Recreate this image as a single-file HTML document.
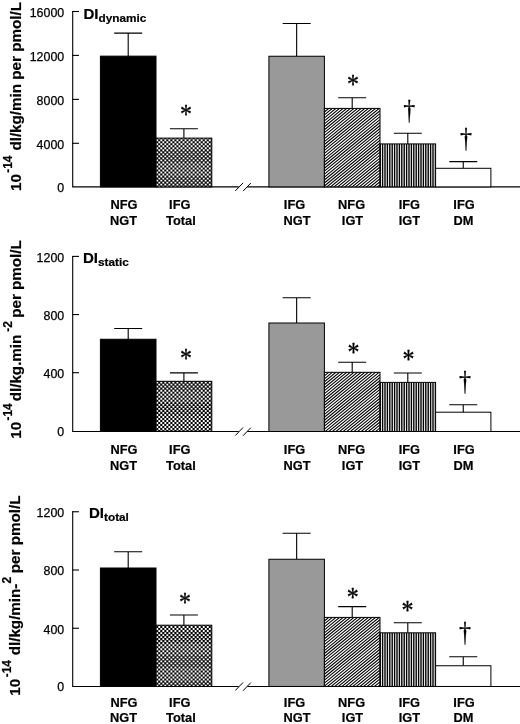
<!DOCTYPE html><html><head><meta charset="utf-8"><title>Disposition index</title>
<style>html,body{margin:0;padding:0;background:#fff}svg{display:block}text{font-family:"Liberation Sans",Arial,Helvetica,sans-serif;fill:#000}.b{font-weight:bold;stroke:#000;stroke-width:.2px}</style></head><body>
<svg width="520" height="724" viewBox="0 0 520 724">
<defs>
<pattern id="chk" x="156.3" y="139.2" width="4.04" height="4.04" patternUnits="userSpaceOnUse"><rect width="4.04" height="4.04" fill="#000"/><rect x="0" y="0" width="2.02" height="2.02" fill="#fff"/><rect x="2.02" y="2.02" width="2.02" height="2.02" fill="#fff"/></pattern>
<pattern id="dg" width="2.29" height="2.29" patternUnits="userSpaceOnUse" patternTransform="rotate(50)"><rect width="2.29" height="2.29" fill="#fff"/><rect width="1.2" height="2.29" fill="#000"/></pattern>
<pattern id="vs" x="380.3" width="2.4" height="4" patternUnits="userSpaceOnUse"><rect width="2.4" height="4" fill="#fff"/><rect width="1.55" height="4" fill="#000"/></pattern>
</defs>
<rect width="520" height="724" fill="#fff"/>
<g id="chart1">
<path d="M72.7 11.0V186.9" stroke="#000" stroke-width="1.1" fill="none"/>
<path d="M72.2 186.9H238.7M247.3 186.9H520" stroke="#000" stroke-width="1.1" fill="none"/>
<path d="M235.3 190.9L243.1 182.9M243.1 191.1L250.8 183.1" stroke="#000" stroke-width="1" fill="none"/>
<path d="M72.2 11.5H79" stroke="#000" stroke-width="1.1"/>
<text x="64.2" y="16.9" font-size="12.4" text-anchor="end" stroke="#000" stroke-width="0.25">16000</text>
<path d="M72.2 55.4H79" stroke="#000" stroke-width="1.1"/>
<text x="64.2" y="60.8" font-size="12.4" text-anchor="end" stroke="#000" stroke-width="0.25">12000</text>
<path d="M72.2 99.4H79" stroke="#000" stroke-width="1.1"/>
<text x="64.2" y="104.80000000000001" font-size="12.4" text-anchor="end" stroke="#000" stroke-width="0.25">8000</text>
<path d="M72.2 143.3H79" stroke="#000" stroke-width="1.1"/>
<text x="64.2" y="148.70000000000002" font-size="12.4" text-anchor="end" stroke="#000" stroke-width="0.25">4000</text>
<text x="64.2" y="191.8" font-size="12.4" text-anchor="end" stroke="#000" stroke-width="0.25">0</text>
<path d="M128.20 56.15V33.1M114.20 33.1H142.20" stroke="#000" stroke-width="1.1" fill="none"/>
<rect x="100.4" y="56.15" width="55.599999999999994" height="130.75" fill="#000" stroke="#000" stroke-width="1"/>
<path d="M183.90 138.1V128.75M169.90 128.75H197.90" stroke="#000" stroke-width="1.1" fill="none"/>
<clipPath id="c0_1"><rect x="156" y="138.1" width="55.80000000000001" height="48.80"/></clipPath><rect x="156" y="138.1" width="55.80000000000001" height="48.80" fill="#000"/><path clip-path="url(#c0_1)" d="M154.28 138.19H211.8M152.26 140.21H211.8M154.28 142.23H211.8M152.26 144.25H211.8M154.28 146.27H211.8M152.26 148.29H211.8M154.28 150.31H211.8M152.26 152.33H211.8M154.28 154.35H211.8M152.26 156.37H211.8M154.28 158.39H211.8M152.26 160.41H211.8M154.28 162.43H211.8M152.26 164.45H211.8M154.28 166.47H211.8M152.26 168.49H211.8M154.28 170.51H211.8M152.26 172.53H211.8M154.28 174.55H211.8M152.26 176.57H211.8M154.28 178.59H211.8M152.26 180.61H211.8M154.28 182.63H211.8M152.26 184.65H211.8M154.28 186.67H211.8" stroke="#fff" stroke-width="1.9" stroke-dasharray="1.9 2.14" fill="none"/><rect x="156" y="138.1" width="55.80000000000001" height="48.80" fill="none" stroke="#000" stroke-width="1"/>
<text transform="translate(185.9 109.25) scale(.92 1.08)" x="0" y="12.4" font-size="26" stroke="#000" stroke-width=".35" text-anchor="middle" style="font-family:'Liberation Serif',serif">*</text>
<path d="M296.65 56.25V23.5M282.65 23.5H310.65" stroke="#000" stroke-width="1.1" fill="none"/>
<rect x="268.9" y="56.25" width="55.5" height="130.65" fill="#999" stroke="#000" stroke-width="1"/>
<path d="M352.20 108.4V97.8M338.20 97.8H366.20" stroke="#000" stroke-width="1.1" fill="none"/>
<clipPath id="c0_3"><rect x="324.4" y="108.4" width="55.60000000000002" height="78.50"/></clipPath><rect x="324.4" y="108.4" width="55.60000000000002" height="78.50" fill="#fff"/><path clip-path="url(#c0_3)" d="M324.4 109.00L380 63.33M324.4 111.96L380 66.29M324.4 114.92L380 69.25M324.4 117.88L380 72.21M324.4 120.84L380 75.17M324.4 123.80L380 78.13M324.4 126.76L380 81.09M324.4 129.72L380 84.05M324.4 132.68L380 87.01M324.4 135.64L380 89.97M324.4 138.60L380 92.93M324.4 141.56L380 95.89M324.4 144.52L380 98.85M324.4 147.48L380 101.81M324.4 150.44L380 104.77M324.4 153.40L380 107.73M324.4 156.36L380 110.69M324.4 159.32L380 113.65M324.4 162.28L380 116.61M324.4 165.24L380 119.57M324.4 168.20L380 122.53M324.4 171.16L380 125.49M324.4 174.12L380 128.45M324.4 177.08L380 131.41M324.4 180.04L380 134.37M324.4 183.00L380 137.33M324.4 185.96L380 140.29M324.4 188.92L380 143.25M324.4 191.88L380 146.21M324.4 194.84L380 149.17M324.4 197.80L380 152.13M324.4 200.76L380 155.09M324.4 203.72L380 158.05M324.4 206.68L380 161.01M324.4 209.64L380 163.97M324.4 212.60L380 166.93M324.4 215.56L380 169.89M324.4 218.52L380 172.85M324.4 221.48L380 175.81M324.4 224.44L380 178.77M324.4 227.40L380 181.73M324.4 230.36L380 184.69M324.4 233.32L380 187.65" stroke="#000" stroke-width="1.1" fill="none"/><rect x="324.4" y="108.4" width="55.60000000000002" height="78.50" fill="none" stroke="#000" stroke-width="1"/>
<text transform="translate(353.1 79.45) scale(.92 1.08)" x="0" y="12.4" font-size="26" stroke="#000" stroke-width=".35" text-anchor="middle" style="font-family:'Liberation Serif',serif">*</text>
<path d="M407.80 143.9V133.25M393.80 133.25H421.80" stroke="#000" stroke-width="1.1" fill="none"/>
<clipPath id="c0_4"><rect x="380" y="143.9" width="55.60000000000002" height="43.00"/></clipPath><rect x="380" y="143.9" width="55.60000000000002" height="43.00" fill="#fff"/><path clip-path="url(#c0_4)" d="M380.20 143.9V186.9M382.60 143.9V186.9M385.00 143.9V186.9M387.40 143.9V186.9M389.80 143.9V186.9M392.20 143.9V186.9M394.60 143.9V186.9M397.00 143.9V186.9M399.40 143.9V186.9M401.80 143.9V186.9M404.20 143.9V186.9M406.60 143.9V186.9M409.00 143.9V186.9M411.40 143.9V186.9M413.80 143.9V186.9M416.20 143.9V186.9M418.60 143.9V186.9M421.00 143.9V186.9M423.40 143.9V186.9M425.80 143.9V186.9M428.20 143.9V186.9M430.60 143.9V186.9M433.00 143.9V186.9M435.40 143.9V186.9" stroke="#000" stroke-width="1.4" fill="none"/><rect x="380" y="143.9" width="55.60000000000002" height="43.00" fill="none" stroke="#000" stroke-width="1"/>
<text transform="translate(409.3 111.3) scale(1 1.12)" x="0" y="6.65" font-size="24" stroke="#000" stroke-width=".25" text-anchor="middle" style="font-family:'Liberation Serif',serif">†</text>
<path d="M463.25 168.3V161.6M449.25 161.6H477.25" stroke="#000" stroke-width="1.1" fill="none"/>
<rect x="435.6" y="168.3" width="55.299999999999955" height="18.60" fill="#fff" stroke="#000" stroke-width="1"/>
<text transform="translate(465.9 139.15) scale(1 1.12)" x="0" y="6.65" font-size="24" stroke="#000" stroke-width=".25" text-anchor="middle" style="font-family:'Liberation Serif',serif">†</text>
<text class="b" x="83.5" y="18.8" font-size="15">DI<tspan font-size="11.8" dy="3.1">dynamic</tspan></text>
<text class="b" x="123.9" y="209.3" font-size="12.8" text-anchor="middle">NFG</text>
<text class="b" x="123.5" y="224.8" font-size="12.8" text-anchor="middle">NGT</text>
<text class="b" x="179.75" y="209.3" font-size="12.8" text-anchor="middle">IFG</text>
<text class="b" x="180.9" y="224.8" font-size="12.8" text-anchor="middle">Total</text>
<text class="b" x="294.5" y="209.3" font-size="12.8" text-anchor="middle">IFG</text>
<text class="b" x="297" y="224.8" font-size="12.8" text-anchor="middle">NGT</text>
<text class="b" x="351.6" y="209.3" font-size="12.8" text-anchor="middle">NFG</text>
<text class="b" x="352.5" y="224.8" font-size="12.8" text-anchor="middle">IGT</text>
<text class="b" x="409.4" y="209.3" font-size="12.8" text-anchor="middle">IFG</text>
<text class="b" x="409.3" y="224.8" font-size="12.8" text-anchor="middle">IGT</text>
<text class="b" x="464" y="209.3" font-size="12.8" text-anchor="middle">IFG</text>
<text class="b" x="463.4" y="224.8" font-size="12.8" text-anchor="middle">DM</text>
<text class="b" transform="translate(21.2 190.9) rotate(-90)" font-size="15.2">10</text>
<text class="b" transform="translate(12.4 172.8) rotate(-90)" font-size="12">-14</text>
<text class="b" transform="translate(21.2 150.6) rotate(-90)" font-size="15.2">dl/kg/min per pmol/L</text>
</g>
<g id="chart2">
<path d="M72.7 255.89999999999998V431.5" stroke="#000" stroke-width="1.1" fill="none"/>
<path d="M72.2 431.5H238.7M247.3 431.5H520" stroke="#000" stroke-width="1.1" fill="none"/>
<path d="M235.3 435.5L243.1 427.5M243.1 435.7L250.8 427.7" stroke="#000" stroke-width="1" fill="none"/>
<path d="M72.2 256.4H79" stroke="#000" stroke-width="1.1"/>
<text x="64.2" y="261.79999999999995" font-size="12.4" text-anchor="end" stroke="#000" stroke-width="0.25">1200</text>
<path d="M72.2 314.55H79" stroke="#000" stroke-width="1.1"/>
<text x="64.2" y="319.95" font-size="12.4" text-anchor="end" stroke="#000" stroke-width="0.25">800</text>
<path d="M72.2 372.7H79" stroke="#000" stroke-width="1.1"/>
<text x="64.2" y="378.09999999999997" font-size="12.4" text-anchor="end" stroke="#000" stroke-width="0.25">400</text>
<text x="64.2" y="436.4" font-size="12.4" text-anchor="end" stroke="#000" stroke-width="0.25">0</text>
<path d="M128.20 339.25V328.5M114.20 328.5H142.20" stroke="#000" stroke-width="1.1" fill="none"/>
<rect x="100.4" y="339.25" width="55.599999999999994" height="92.25" fill="#000" stroke="#000" stroke-width="1"/>
<path d="M183.90 381.3V372.9M169.90 372.9H197.90" stroke="#000" stroke-width="1.1" fill="none"/>
<clipPath id="c1_1"><rect x="156" y="381.3" width="55.80000000000001" height="50.20"/></clipPath><rect x="156" y="381.3" width="55.80000000000001" height="50.20" fill="#000"/><path clip-path="url(#c1_1)" d="M154.28 380.59H211.8M152.26 382.61H211.8M154.28 384.63H211.8M152.26 386.65H211.8M154.28 388.67H211.8M152.26 390.69H211.8M154.28 392.71H211.8M152.26 394.73H211.8M154.28 396.75H211.8M152.26 398.77H211.8M154.28 400.79H211.8M152.26 402.81H211.8M154.28 404.83H211.8M152.26 406.85H211.8M154.28 408.87H211.8M152.26 410.89H211.8M154.28 412.91H211.8M152.26 414.93H211.8M154.28 416.95H211.8M152.26 418.97H211.8M154.28 420.99H211.8M152.26 423.01H211.8M154.28 425.03H211.8M152.26 427.05H211.8M154.28 429.07H211.8M152.26 431.09H211.8" stroke="#fff" stroke-width="1.9" stroke-dasharray="1.9 2.14" fill="none"/><rect x="156" y="381.3" width="55.80000000000001" height="50.20" fill="none" stroke="#000" stroke-width="1"/>
<text transform="translate(185.95 353.65) scale(.92 1.08)" x="0" y="12.4" font-size="26" stroke="#000" stroke-width=".35" text-anchor="middle" style="font-family:'Liberation Serif',serif">*</text>
<path d="M296.65 323V297.75M282.65 297.75H310.65" stroke="#000" stroke-width="1.1" fill="none"/>
<rect x="268.9" y="323" width="55.5" height="108.50" fill="#999" stroke="#000" stroke-width="1"/>
<path d="M352.20 372.3V362.2M338.20 362.2H366.20" stroke="#000" stroke-width="1.1" fill="none"/>
<clipPath id="c1_3"><rect x="324.4" y="372.3" width="55.60000000000002" height="59.20"/></clipPath><rect x="324.4" y="372.3" width="55.60000000000002" height="59.20" fill="#fff"/><path clip-path="url(#c1_3)" d="M324.4 372.90L380 327.23M324.4 375.86L380 330.19M324.4 378.82L380 333.15M324.4 381.78L380 336.11M324.4 384.74L380 339.07M324.4 387.70L380 342.03M324.4 390.66L380 344.99M324.4 393.62L380 347.95M324.4 396.58L380 350.91M324.4 399.54L380 353.87M324.4 402.50L380 356.83M324.4 405.46L380 359.79M324.4 408.42L380 362.75M324.4 411.38L380 365.71M324.4 414.34L380 368.67M324.4 417.30L380 371.63M324.4 420.26L380 374.59M324.4 423.22L380 377.55M324.4 426.18L380 380.51M324.4 429.14L380 383.47M324.4 432.10L380 386.43M324.4 435.06L380 389.39M324.4 438.02L380 392.35M324.4 440.98L380 395.31M324.4 443.94L380 398.27M324.4 446.90L380 401.23M324.4 449.86L380 404.19M324.4 452.82L380 407.15M324.4 455.78L380 410.11M324.4 458.74L380 413.07M324.4 461.70L380 416.03M324.4 464.66L380 418.99M324.4 467.62L380 421.95M324.4 470.58L380 424.91M324.4 473.54L380 427.87M324.4 476.50L380 430.83M324.4 479.46L380 433.79" stroke="#000" stroke-width="1.1" fill="none"/><rect x="324.4" y="372.3" width="55.60000000000002" height="59.20" fill="none" stroke="#000" stroke-width="1"/>
<text transform="translate(353.5 347.25) scale(.92 1.08)" x="0" y="12.4" font-size="26" stroke="#000" stroke-width=".35" text-anchor="middle" style="font-family:'Liberation Serif',serif">*</text>
<path d="M407.80 382.4V373M393.80 373H421.80" stroke="#000" stroke-width="1.1" fill="none"/>
<clipPath id="c1_4"><rect x="380" y="382.4" width="55.60000000000002" height="49.10"/></clipPath><rect x="380" y="382.4" width="55.60000000000002" height="49.10" fill="#fff"/><path clip-path="url(#c1_4)" d="M380.20 382.4V431.5M382.60 382.4V431.5M385.00 382.4V431.5M387.40 382.4V431.5M389.80 382.4V431.5M392.20 382.4V431.5M394.60 382.4V431.5M397.00 382.4V431.5M399.40 382.4V431.5M401.80 382.4V431.5M404.20 382.4V431.5M406.60 382.4V431.5M409.00 382.4V431.5M411.40 382.4V431.5M413.80 382.4V431.5M416.20 382.4V431.5M418.60 382.4V431.5M421.00 382.4V431.5M423.40 382.4V431.5M425.80 382.4V431.5M428.20 382.4V431.5M430.60 382.4V431.5M433.00 382.4V431.5M435.40 382.4V431.5" stroke="#000" stroke-width="1.4" fill="none"/><rect x="380" y="382.4" width="55.60000000000002" height="49.10" fill="none" stroke="#000" stroke-width="1"/>
<text transform="translate(408.4 354.95) scale(.92 1.08)" x="0" y="12.4" font-size="26" stroke="#000" stroke-width=".35" text-anchor="middle" style="font-family:'Liberation Serif',serif">*</text>
<path d="M463.25 412.2V404.8M449.25 404.8H477.25" stroke="#000" stroke-width="1.1" fill="none"/>
<rect x="435.6" y="412.2" width="55.299999999999955" height="19.30" fill="#fff" stroke="#000" stroke-width="1"/>
<text transform="translate(465.1 382.75) scale(1 1.12)" x="0" y="6.65" font-size="24" stroke="#000" stroke-width=".25" text-anchor="middle" style="font-family:'Liberation Serif',serif">†</text>
<text class="b" x="83" y="263.3" font-size="15">DI<tspan font-size="11.8" dy="3.1">static</tspan></text>
<text class="b" x="123.9" y="454.3" font-size="12.8" text-anchor="middle">NFG</text>
<text class="b" x="123.5" y="469.8" font-size="12.8" text-anchor="middle">NGT</text>
<text class="b" x="179.75" y="454.3" font-size="12.8" text-anchor="middle">IFG</text>
<text class="b" x="180.9" y="469.8" font-size="12.8" text-anchor="middle">Total</text>
<text class="b" x="294.5" y="454.3" font-size="12.8" text-anchor="middle">IFG</text>
<text class="b" x="297" y="469.8" font-size="12.8" text-anchor="middle">NGT</text>
<text class="b" x="351.6" y="454.3" font-size="12.8" text-anchor="middle">NFG</text>
<text class="b" x="352.5" y="469.8" font-size="12.8" text-anchor="middle">IGT</text>
<text class="b" x="409.4" y="454.3" font-size="12.8" text-anchor="middle">IFG</text>
<text class="b" x="409.3" y="469.8" font-size="12.8" text-anchor="middle">IGT</text>
<text class="b" x="464" y="454.3" font-size="12.8" text-anchor="middle">IFG</text>
<text class="b" x="463.4" y="469.8" font-size="12.8" text-anchor="middle">DM</text>
<text class="b" transform="translate(20.9 438.8) rotate(-90)" font-size="15.2">10</text>
<text class="b" transform="translate(12.1 420.6) rotate(-90)" font-size="12">-14</text>
<text class="b" transform="translate(20.9 401.3) rotate(-90)" font-size="15.2">dl/kg.min</text>
<text class="b" transform="translate(12.1 331.7) rotate(-90)" font-size="12">-2</text>
<text class="b" transform="translate(20.9 317.8) rotate(-90)" font-size="15.2">per pmol/L</text>
</g>
<g id="chart3">
<path d="M72.7 511.25V686.45" stroke="#000" stroke-width="1.1" fill="none"/>
<path d="M72.2 686.45H238.7M247.3 686.45H520" stroke="#000" stroke-width="1.1" fill="none"/>
<path d="M235.3 690.45L243.1 682.45M243.1 690.6500000000001L250.8 682.6500000000001" stroke="#000" stroke-width="1" fill="none"/>
<path d="M72.2 511.75H79" stroke="#000" stroke-width="1.1"/>
<text x="64.2" y="517.15" font-size="12.4" text-anchor="end" stroke="#000" stroke-width="0.25">1200</text>
<path d="M72.2 570H79" stroke="#000" stroke-width="1.1"/>
<text x="64.2" y="575.4" font-size="12.4" text-anchor="end" stroke="#000" stroke-width="0.25">800</text>
<path d="M72.2 628.25H79" stroke="#000" stroke-width="1.1"/>
<text x="64.2" y="633.65" font-size="12.4" text-anchor="end" stroke="#000" stroke-width="0.25">400</text>
<text x="64.2" y="691.35" font-size="12.4" text-anchor="end" stroke="#000" stroke-width="0.25">0</text>
<path d="M128.20 568V551.75M114.20 551.75H142.20" stroke="#000" stroke-width="1.1" fill="none"/>
<rect x="100.4" y="568" width="55.599999999999994" height="118.45" fill="#000" stroke="#000" stroke-width="1"/>
<path d="M183.90 625.2V615M169.90 615H197.90" stroke="#000" stroke-width="1.1" fill="none"/>
<clipPath id="c2_1"><rect x="156" y="625.2" width="55.80000000000001" height="61.25"/></clipPath><rect x="156" y="625.2" width="55.80000000000001" height="61.25" fill="#000"/><path clip-path="url(#c2_1)" d="M152.26 625.01H211.8M154.28 627.03H211.8M152.26 629.05H211.8M154.28 631.07H211.8M152.26 633.09H211.8M154.28 635.11H211.8M152.26 637.13H211.8M154.28 639.15H211.8M152.26 641.17H211.8M154.28 643.19H211.8M152.26 645.21H211.8M154.28 647.23H211.8M152.26 649.25H211.8M154.28 651.27H211.8M152.26 653.29H211.8M154.28 655.31H211.8M152.26 657.33H211.8M154.28 659.35H211.8M152.26 661.37H211.8M154.28 663.39H211.8M152.26 665.41H211.8M154.28 667.43H211.8M152.26 669.45H211.8M154.28 671.47H211.8M152.26 673.49H211.8M154.28 675.51H211.8M152.26 677.53H211.8M154.28 679.55H211.8M152.26 681.57H211.8M154.28 683.59H211.8M152.26 685.61H211.8" stroke="#fff" stroke-width="1.9" stroke-dasharray="1.9 2.14" fill="none"/><rect x="156" y="625.2" width="55.80000000000001" height="61.25" fill="none" stroke="#000" stroke-width="1"/>
<text transform="translate(185.1 597.25) scale(.92 1.08)" x="0" y="12.4" font-size="26" stroke="#000" stroke-width=".35" text-anchor="middle" style="font-family:'Liberation Serif',serif">*</text>
<path d="M296.65 559.25V533.25M282.65 533.25H310.65" stroke="#000" stroke-width="1.1" fill="none"/>
<rect x="268.9" y="559.25" width="55.5" height="127.20" fill="#999" stroke="#000" stroke-width="1"/>
<path d="M352.20 617.4V606.6M338.20 606.6H366.20" stroke="#000" stroke-width="1.1" fill="none"/>
<clipPath id="c2_3"><rect x="324.4" y="617.4" width="55.60000000000002" height="69.05"/></clipPath><rect x="324.4" y="617.4" width="55.60000000000002" height="69.05" fill="#fff"/><path clip-path="url(#c2_3)" d="M324.4 618.00L380 572.33M324.4 620.96L380 575.29M324.4 623.92L380 578.25M324.4 626.88L380 581.21M324.4 629.84L380 584.17M324.4 632.80L380 587.13M324.4 635.76L380 590.09M324.4 638.72L380 593.05M324.4 641.68L380 596.01M324.4 644.64L380 598.97M324.4 647.60L380 601.93M324.4 650.56L380 604.89M324.4 653.52L380 607.85M324.4 656.48L380 610.81M324.4 659.44L380 613.77M324.4 662.40L380 616.73M324.4 665.36L380 619.69M324.4 668.32L380 622.65M324.4 671.28L380 625.61M324.4 674.24L380 628.57M324.4 677.20L380 631.53M324.4 680.16L380 634.49M324.4 683.12L380 637.45M324.4 686.08L380 640.41M324.4 689.04L380 643.37M324.4 692.00L380 646.33M324.4 694.96L380 649.29M324.4 697.92L380 652.25M324.4 700.88L380 655.21M324.4 703.84L380 658.17M324.4 706.80L380 661.13M324.4 709.76L380 664.09M324.4 712.72L380 667.05M324.4 715.68L380 670.01M324.4 718.64L380 672.97M324.4 721.60L380 675.93M324.4 724.56L380 678.89M324.4 727.52L380 681.85M324.4 730.48L380 684.81M324.4 733.44L380 687.77" stroke="#000" stroke-width="1.1" fill="none"/><rect x="324.4" y="617.4" width="55.60000000000002" height="69.05" fill="none" stroke="#000" stroke-width="1"/>
<text transform="translate(352.8 592.25) scale(.92 1.08)" x="0" y="12.4" font-size="26" stroke="#000" stroke-width=".35" text-anchor="middle" style="font-family:'Liberation Serif',serif">*</text>
<path d="M407.80 632.8V622.8M393.80 622.8H421.80" stroke="#000" stroke-width="1.1" fill="none"/>
<clipPath id="c2_4"><rect x="380" y="632.8" width="55.60000000000002" height="53.65"/></clipPath><rect x="380" y="632.8" width="55.60000000000002" height="53.65" fill="#fff"/><path clip-path="url(#c2_4)" d="M380.20 632.8V686.45M382.60 632.8V686.45M385.00 632.8V686.45M387.40 632.8V686.45M389.80 632.8V686.45M392.20 632.8V686.45M394.60 632.8V686.45M397.00 632.8V686.45M399.40 632.8V686.45M401.80 632.8V686.45M404.20 632.8V686.45M406.60 632.8V686.45M409.00 632.8V686.45M411.40 632.8V686.45M413.80 632.8V686.45M416.20 632.8V686.45M418.60 632.8V686.45M421.00 632.8V686.45M423.40 632.8V686.45M425.80 632.8V686.45M428.20 632.8V686.45M430.60 632.8V686.45M433.00 632.8V686.45M435.40 632.8V686.45" stroke="#000" stroke-width="1.4" fill="none"/><rect x="380" y="632.8" width="55.60000000000002" height="53.65" fill="none" stroke="#000" stroke-width="1"/>
<text transform="translate(407.6 605.55) scale(.92 1.08)" x="0" y="12.4" font-size="26" stroke="#000" stroke-width=".35" text-anchor="middle" style="font-family:'Liberation Serif',serif">*</text>
<path d="M463.25 665.75V656.75M449.25 656.75H477.25" stroke="#000" stroke-width="1.1" fill="none"/>
<rect x="435.6" y="665.75" width="55.299999999999955" height="20.70" fill="#fff" stroke="#000" stroke-width="1"/>
<text transform="translate(464.9 633.9) scale(1 1.12)" x="0" y="6.65" font-size="24" stroke="#000" stroke-width=".25" text-anchor="middle" style="font-family:'Liberation Serif',serif">†</text>
<text class="b" x="89" y="518.2" font-size="15">DI<tspan font-size="11.8" dy="3.1">total</tspan></text>
<text class="b" x="123.9" y="706.9" font-size="12.8" text-anchor="middle">NFG</text>
<text class="b" x="123.5" y="722.4" font-size="12.8" text-anchor="middle">NGT</text>
<text class="b" x="179.75" y="706.9" font-size="12.8" text-anchor="middle">IFG</text>
<text class="b" x="180.9" y="722.4" font-size="12.8" text-anchor="middle">Total</text>
<text class="b" x="294.5" y="706.9" font-size="12.8" text-anchor="middle">IFG</text>
<text class="b" x="297" y="722.4" font-size="12.8" text-anchor="middle">NGT</text>
<text class="b" x="351.6" y="706.9" font-size="12.8" text-anchor="middle">NFG</text>
<text class="b" x="352.5" y="722.4" font-size="12.8" text-anchor="middle">IGT</text>
<text class="b" x="409.4" y="706.9" font-size="12.8" text-anchor="middle">IFG</text>
<text class="b" x="409.3" y="722.4" font-size="12.8" text-anchor="middle">IGT</text>
<text class="b" x="464" y="706.9" font-size="12.8" text-anchor="middle">IFG</text>
<text class="b" x="463.4" y="722.4" font-size="12.8" text-anchor="middle">DM</text>
<text class="b" transform="translate(20.2 695.7) rotate(-90)" font-size="15.2">10</text>
<text class="b" transform="translate(11.4 677.3) rotate(-90)" font-size="12">-14</text>
<text class="b" transform="translate(20.2 655.3) rotate(-90)" font-size="15.2">dl/kg/min-</text>
<text class="b" transform="translate(11.4 583.4) rotate(-90)" font-size="12">2</text>
<text class="b" transform="translate(20.2 573.2) rotate(-90)" font-size="15.2">per pmol/L</text>
</g>
</svg></body></html>
